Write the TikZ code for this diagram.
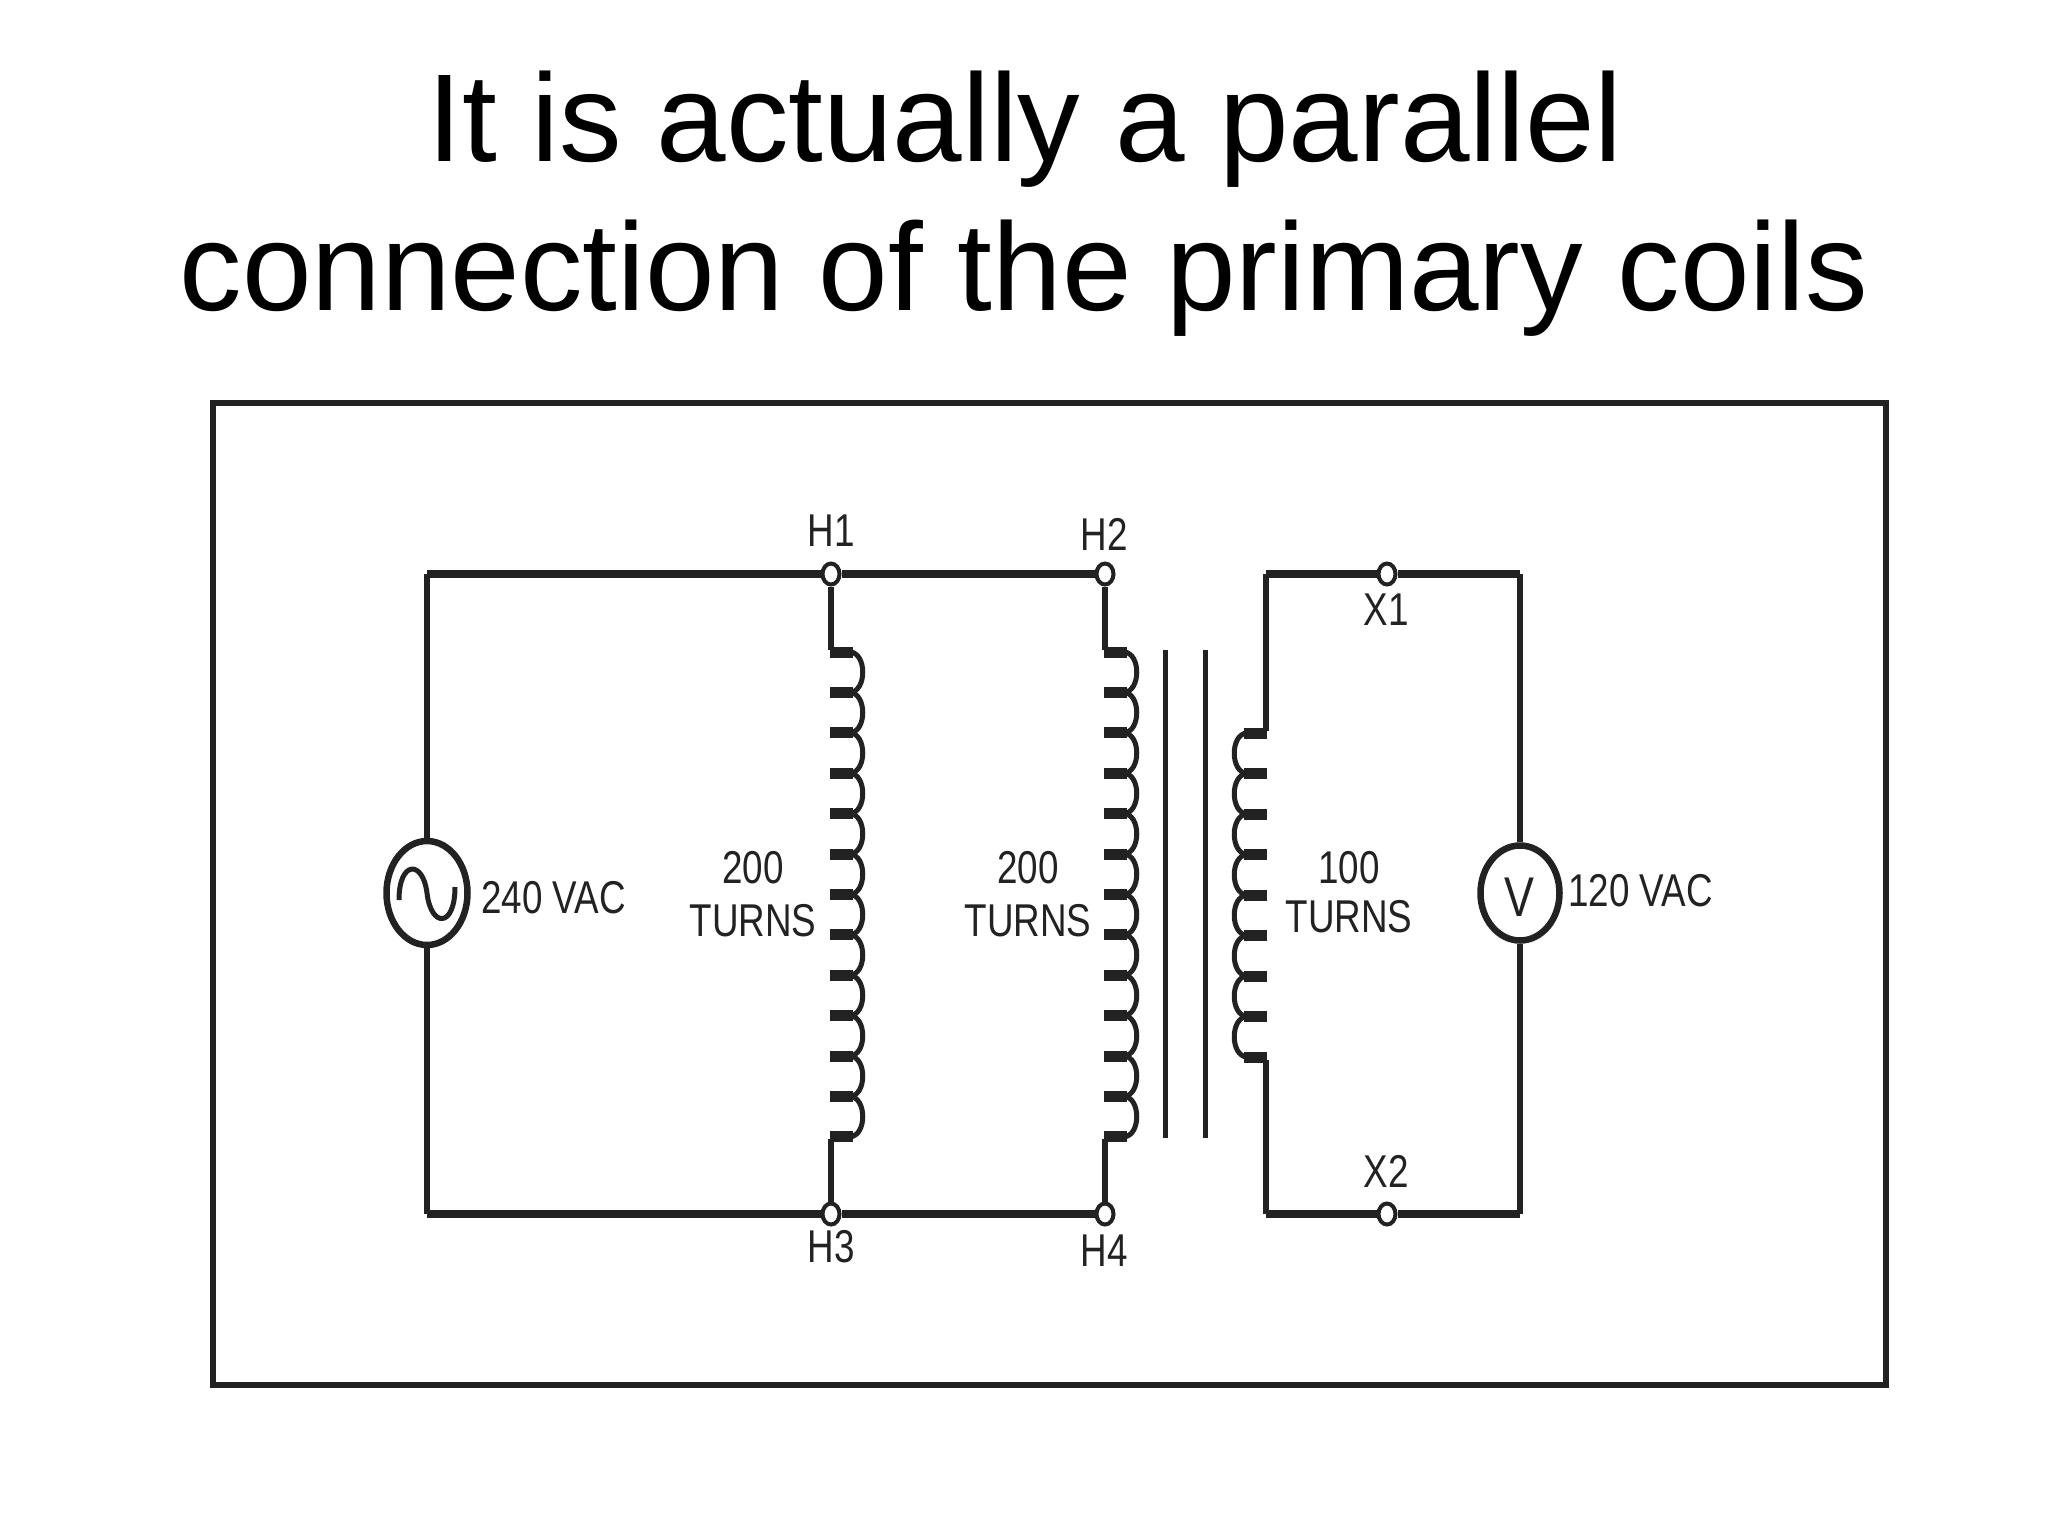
\documentclass[tikz,border=0pt]{standalone}
\usepackage{fontspec}
\setmainfont{Liberation Sans}
\newfontfamily\lab[FakeStretch=0.8]{Liberation Sans}
\usetikzlibrary{shapes.geometric}
\definecolor{ink}{HTML}{222222}
\tikzset{
  wireh/.style={draw=ink,line width=7.5pt,line cap=square},
  wirev/.style={draw=ink,line width=6pt,line cap=square},
  term/.style={ellipse,draw=ink,fill=white,line width=4pt,minimum width=17pt,minimum height=21pt,inner sep=0pt},
  roundel/.style={ellipse,draw=ink,fill=white,line width=6.5pt,inner sep=0pt},
  titletext/.style={inner sep=0pt,anchor=base,text=black,font=\fontsize{125}{125}\selectfont},
  labeltext/.style={inner sep=0pt,text=ink,font=\lab\fontsize{46}{46}\selectfont},
  tick/.style={draw=ink,line width=11pt},
  turn/.style={draw=ink,line width=5pt},
  core/.style={draw=ink,line width=5pt}
}
% #1 x of the lead, #2 top y, #3 bumps, #4 pitch, #5 direction (+1 right, -1 left)
\newcommand{\coilshape}[5]{%
  \begin{scope}[shift={(#1,#2)},xscale=#5]
    \foreach \k in {0,...,#3}{
      \draw[tick] (-1,{\k*#4}) -- (22,{\k*#4});
    }
    \pgfmathtruncatemacro{\lastk}{#3-1}
    \foreach \k in {0,...,\lastk}{
      \draw[turn] (19,{\k*#4}) .. controls (36,{\k*#4+1}) and (36,{(\k+1)*#4-1}) .. (19,{(\k+1)*#4});
    }
  \end{scope}}
\begin{document}
\begin{tikzpicture}[x=1pt,y=-1pt]
\useasboundingbox (0,0) rectangle (2048,1536);
\node[titletext] (title1) at (1025,161) {It is actually a parallel};
\node[titletext] (title2) at (1024,310) {connection of the primary coils};
\draw[draw=ink,line width=6.5pt] (213,403) rectangle (1886,1385);

% terminals and instruments
\node[term] (H1) at (831,574) {};
\node[term] (H2) at (1105,574) {};
\node[term] (H3) at (831,1214) {};
\node[term] (H4) at (1105,1214) {};
\node[term] (X1) at (1387,574) {};
\node[term] (X2) at (1387,1214) {};
\node[roundel,minimum width=81pt,minimum height=104pt] (src) at (427,893) {};
\node[roundel,minimum width=79pt,minimum height=95pt] (vm) at (1520,893) {};

% corner and coil-end points
\coordinate (TL) at (427,574);
\coordinate (BL) at (427,1214);
\coordinate (ST) at (1266,574);
\coordinate (SB) at (1266,1214);
\coordinate (RT) at (1520,574);
\coordinate (RB) at (1520,1214);
\coordinate (C1a) at (831,650);
\coordinate (C1b) at (831,1139);
\coordinate (C2a) at (1105,650);
\coordinate (C2b) at (1105,1139);
\coordinate (C3a) at (1266,731);
\coordinate (C3b) at (1266,1060);

% coils
\coilshape{831}{652}{12}{40.4}{1}
\coilshape{1105}{652}{12}{40.4}{1}
\coilshape{1266}{733}{8}{40.5}{-1}

% core
\coordinate (K1a) at (1165,650);
\coordinate (K1b) at (1165,1138);
\coordinate (K2a) at (1205,650);
\coordinate (K2b) at (1205,1138);
\draw[core] (K1a) -- (K1b);
\draw[core] (K2a) -- (K2b);

% wiring
\draw[wireh] (TL) -- (H1);
\draw[wireh] (H1) -- (H2);
\draw[wireh] (BL) -- (H3);
\draw[wireh] (H3) -- (H4);
\draw[wirev] (TL) -- (src);
\draw[wirev] (BL) -- (src);
\draw[wirev] (H1) -- (C1a);
\draw[wirev] (H3) -- (C1b);
\draw[wirev] (H2) -- (C2a);
\draw[wirev] (H4) -- (C2b);
\draw[wireh] (ST) -- (X1);
\draw[wireh] (X1) -- (RT);
\draw[wireh] (SB) -- (X2);
\draw[wireh] (X2) -- (RB);
\draw[wirev] (ST) -- (C3a);
\draw[wirev] (SB) -- (C3b);
\draw[wirev] (RT) -- (vm);
\draw[wirev] (RB) -- (vm);

% sine in the source
\draw[turn] (399,900) .. controls (399,860) and (423,860) .. (427,893)
            .. controls (431,928) and (455,928) .. (455,887);

% labels
\node[labeltext] (lH1) at (831,531) {H1};
\node[labeltext] (lH2) at (1104,534) {H2};
\node[labeltext] (lH3) at (831,1247) {H3};
\node[labeltext] (lH4) at (1104,1251) {H4};
\node[labeltext] (lX1) at (1386,610) {X1};
\node[labeltext] (lX2) at (1386,1171) {X2};
\node[labeltext,anchor=west] (l240) at (481,898) {240 VAC};
\node[labeltext,anchor=west] (l120) at (1568,891) {120 VAC};
\node[labeltext,font=\lab\fontsize{56}{56}\selectfont] (lV) at (1519,897) {V};
\node[labeltext] (n1) at (753,868) {200};
\node[labeltext] (t1) at (753,921) {TURNS};
\node[labeltext] (n2) at (1028,868) {200};
\node[labeltext] (t2) at (1028,921) {TURNS};
\node[labeltext] (n3) at (1349,868) {100};
\node[labeltext] (t3) at (1349,917) {TURNS};
\end{tikzpicture}
\end{document}
